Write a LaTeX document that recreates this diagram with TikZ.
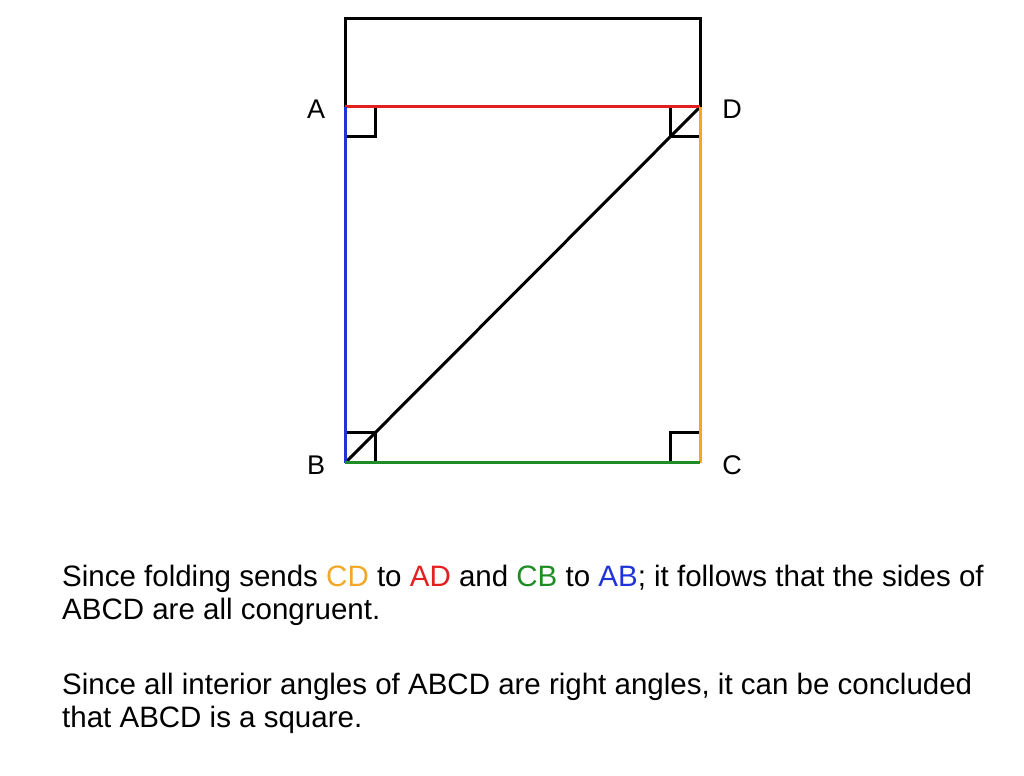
\documentclass[tikz,border=0pt]{standalone}
\usepackage{fontspec}
\setmainfont{Liberation Sans}
\usepackage{tikz}
\definecolor{sideAD}{rgb}{0.90,0.12,0.12}
\definecolor{sideAB}{rgb}{0.12,0.20,0.85}
\definecolor{sideCD}{rgb}{0.95,0.66,0.15}
\definecolor{sideCB}{rgb}{0.12,0.55,0.15}
\tikzset{vlabel/.style={font=\fontsize{27bp}{30bp}\selectfont,inner sep=0pt},
  textline/.style={anchor=base west,inner sep=0pt,font=\fontsize{29.5bp}{33bp}\selectfont}}
\begin{document}
\begin{tikzpicture}[line join=miter]
%%
\useasboundingbox (0.0bp,0.0bp) rectangle (1024.0bp,776.0bp);
  \coordinate (A) at (345.0bp,669.0bp);
  \coordinate (D) at (700.0bp,669.0bp);
  \coordinate (B) at (345.0bp,313.0bp);
  \coordinate (C) at (700.0bp,313.0bp);
  \coordinate (TA) at (345.0bp,757.0bp);
  \coordinate (TD) at (700.0bp,757.0bp);
  \node (lA) at (316.0bp,667.0bp) [vlabel] {A};
  \node (lD) at (732.0bp,667.0bp) [vlabel] {D};
  \node (lB) at (316.0bp,311.0bp) [vlabel] {B};
  \node (lC) at (732.0bp,311.0bp) [vlabel] {C};
  \draw [line width=3bp] (A) -- (TA) -- (TD) -- (D);
  \draw [line width=3bp] (B) -- (D);
  % right angle marks
  \draw [line width=3bp] (345.0bp,639.0bp) -- (375.0bp,639.0bp) -- (375.0bp,669.0bp);
  \draw [line width=3bp] (670.0bp,669.0bp) -- (670.0bp,639.0bp) -- (700.0bp,639.0bp);
  \draw [line width=3bp] (345.0bp,343.0bp) -- (375.0bp,343.0bp) -- (375.0bp,313.0bp);
  \draw [line width=3bp] (670.0bp,313.0bp) -- (670.0bp,343.0bp) -- (700.0bp,343.0bp);
  \draw [line width=3bp,sideAD] (A) -- (D);
  \draw [line width=3bp,sideAB] (A) -- (B);
  \draw [line width=3bp,sideCD] (D) -- (C);
  \draw [line width=3bp,sideCB] (B) -- (C);
  \node (t1) at (62.0bp,189.0bp) [textline] {Since folding sends \textcolor{sideCD}{CD} to \textcolor{sideAD}{AD} and \textcolor{sideCB}{CB} to \textcolor{sideAB}{AB}; it follows that the sides of};
  \node (t2) at (62.0bp,156.0bp) [textline] {ABCD are all congruent.};
  \node (t3) at (62.0bp,81.0bp) [textline] {Since all interior angles of ABCD are right angles, it can be concluded};
  \node (t4) at (62.0bp,48.0bp) [textline] {that ABCD is a square.};
%
\end{tikzpicture}
\end{document}
